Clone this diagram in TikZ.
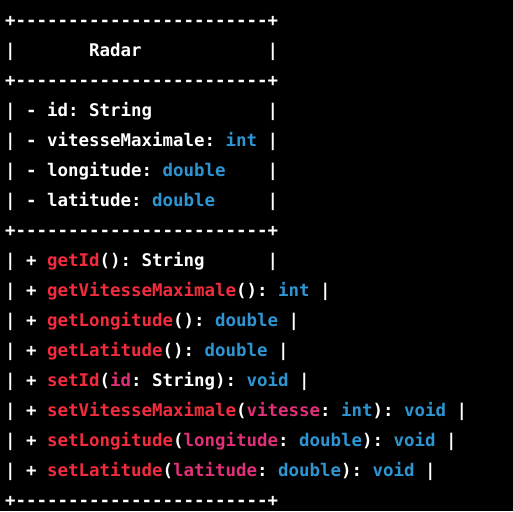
\documentclass[tikz,border=0pt]{standalone}
\usepackage{fontspec}
\setmonofont{DejaVu Sans Mono}
\usepackage{tikz}
\usetikzlibrary{positioning}

\definecolor{methodred}{HTML}{F22C3D}
\definecolor{typeblue}{HTML}{2E95D3}
\definecolor{parampink}{HTML}{DF3079}
\newcommand{\meth}[1]{\textcolor{methodred}{#1}}
\newcommand{\kw}[1]{\textcolor{typeblue}{#1}}
\newcommand{\param}[1]{\textcolor{parampink}{#1}}
\newcommand{\monospaces}{\setlength{\spaceskip}{10.5pt}\setlength{\xspaceskip}{10.5pt}}

\begin{document}
\begin{tikzpicture}[x=1pt,y=1pt,node distance=30pt,on grid]
	\tikzstyle{codeline}=[inner sep=0pt,text width=505pt,align=left,text height=13pt,text depth=4pt,text=white,font=\fontsize{17.44}{30}\selectfont\ttfamily\bfseries,execute at begin node=\monospaces]
	
	\fill[black] (0,0) rectangle (513,511);
	
	\node[codeline,anchor=base west] (top) at (5,484.5) {+------------------------+};
	\node[codeline] (title)      [below=of top]         {|~~~~~~~Radar~~~~~~~~~~~~|};
	\node[codeline] (sep1)       [below=of title]       {+------------------------+};
	\node[codeline] (attrid)     [below=of sep1]        {|~-~id:~String~~~~~~~~~~~|};
	\node[codeline] (attrspeed)  [below=of attrid]      {|~-~vitesseMaximale:~\kw{int}~|};
	\node[codeline] (attrlon)    [below=of attrspeed]   {|~-~longitude:~\kw{double}~~~~|};
	\node[codeline] (attrlat)    [below=of attrlon]     {|~-~latitude:~\kw{double}~~~~~|};
	\node[codeline] (sep2)       [below=of attrlat]     {+------------------------+};
	\node[codeline] (getid)      [below=of sep2]        {|~+~\meth{getId}():~String~~~~~~|};
	\node[codeline] (getspeed)   [below=of getid]       {|~+~\meth{getVitesseMaximale}():~\kw{int}~|};
	\node[codeline] (getlon)     [below=of getspeed]    {|~+~\meth{getLongitude}():~\kw{double}~|};
	\node[codeline] (getlat)     [below=of getlon]      {|~+~\meth{getLatitude}():~\kw{double}~|};
	\node[codeline] (setid)      [below=of getlat]      {|~+~\meth{setId}(\param{id}:~String):~\kw{void}~|};
	\node[codeline] (setspeed)   [below=of setid]       {|~+~\meth{setVitesseMaximale}(\param{vitesse}:~\kw{int}):~\kw{void}~|};
	\node[codeline] (setlon)     [below=of setspeed]    {|~+~\meth{setLongitude}(\param{longitude}:~\kw{double}):~\kw{void}~|};
	\node[codeline] (setlat)     [below=of setlon]      {|~+~\meth{setLatitude}(\param{latitude}:~\kw{double}):~\kw{void}~|};
	\node[codeline] (bottom)     [below=of setlat]      {+------------------------+};
\end{tikzpicture}
\end{document}
